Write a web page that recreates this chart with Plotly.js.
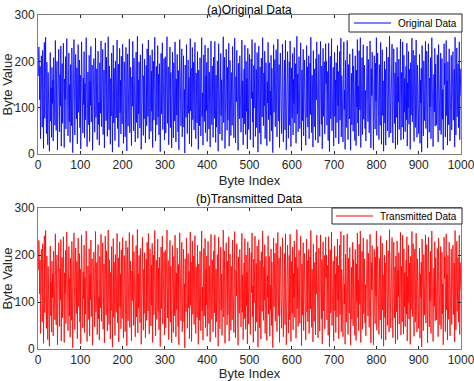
<!DOCTYPE html>
<html><head><meta charset="utf-8">
<script src="https://cdn.plot.ly/plotly-3.0.1.min.js"></script>
<style>html,body{margin:0;padding:0;background:#fff}</style>
</head><body><div id="chart" style="width:474px;height:381px"></div>
<script>
// Byte values, index 1..1000
const originalBytes = [
168,231,204,117,189,33,96,212,147,58,224,183,12,139,241,77,165,252,101,44,
198,131,20,176,87,153,6,122,219,71,143,36,187,109,160,28,208,94,136,62,
245,115,51,179,200,9,157,81,226,142,48,171,104,233,17,124,195,66,151,239,
85,14,162,118,210,54,137,249,92,180,39,127,218,70,150,25,193,112,61,229,
174,3,146,99,247,161,41,108,215,132,76,186,22,155,236,90,119,203,57,170,
11,128,242,83,196,45,164,107,221,35,152,74,188,251,126,16,98,177,141,63,
213,27,158,105,232,69,145,192,8,121,86,206,173,47,138,250,79,114,184,31,
154,222,64,111,19,197,135,88,244,59,167,102,226,42,130,181,13,93,240,148,
72,209,125,38,175,253,97,52,190,144,21,163,82,218,116,4,149,235,67,185,
110,29,201,140,78,168,246,55,123,194,15,134,228,89,159,43,211,106,65,237,
182,23,120,199,150,37,84,230,113,7,172,216,60,136,91,248,46,156,187,75,
18,166,103,243,129,50,207,96,178,26,141,220,68,115,254,34,160,87,199,131,
56,214,147,10,183,95,238,122,40,169,76,205,142,24,108,191,61,227,133,81,
246,100,32,158,213,117,49,179,92,225,14,137,200,73,161,252,104,28,152,189,
63,124,234,80,172,41,195,145,5,118,217,86,167,240,53,138,99,206,30,155,
210,45,173,119,253,66,127,188,20,150,102,231,57,176,91,13,144,220,112,35,
197,148,71,242,109,26,162,84,215,134,48,180,9,121,247,94,153,60,184,227,
37,106,171,212,58,139,2,192,126,79,236,154,44,115,203,88,165,22,128,249,
93,185,16,146,230,74,114,198,52,160,241,97,33,175,136,67,221,105,10,181,
143,61,208,123,39,186,251,81,132,19,157,214,70,110,235,46,169,94,198,27,
116,229,140,54,177,89,15,151,244,102,63,190,125,36,209,164,77,243,107,25,
170,58,122,201,147,6,238,96,181,43,135,217,83,160,29,194,111,253,68,142,
209,12,163,98,226,130,51,187,73,155,239,17,119,202,85,40,176,145,62,232,
103,189,35,141,250,91,24,167,113,224,56,149,8,196,127,76,212,100,171,47,
130,246,78,158,20,117,183,65,235,139,42,200,92,163,11,228,108,53,179,215,
87,31,151,205,120,247,69,134,14,191,99,165,240,38,126,182,57,219,146,4,
172,233,95,45,188,115,21,207,153,80,251,128,61,175,104,222,33,142,197,66,
18,156,110,241,74,168,197,27,136,84,213,50,185,116,3,150,236,90,129,204,
59,178,225,101,37,164,248,120,71,193,14,140,218,82,159,44,107,237,169,26,
138,88,203,52,245,132,9,176,97,221,157,34,113,199,62,244,124,16,186,150,
77,217,41,161,109,230,67,146,195,23,131,254,86,173,48,104,210,137,55,190,
240,120,7,181,72,154,226,39,118,203,93,165,19,142,234,79,188,58,125,212,
33,144,196,85,252,110,46,170,135,15,223,98,59,184,148,30,206,117,242,71,
162,24,127,215,90,38,175,243,106,64,190,11,157,228,81,133,199,43,100,238,
152,200,62,112,178,29,239,145,5,121,211,76,166,249,50,139,94,187,17,127,
219,81,160,35,197,132,68,234,104,178,22,155,221,73,114,250,37,169,143,60,
26,187,242,96,138,10,202,121,57,166,245,89,31,193,130,76,216,159,8,107,
174,63,131,227,49,190,153,84,29,212,140,18,181,101,247,67,147,39,223,116,
95,251,14,168,123,208,42,160,236,75,119,192,55,137,28,179,98,233,152,70,
204,138,46,111,244,86,13,184,126,220,61,171,9,148,212,92,54,196,113,251,
40,165,218,80,149,31,193,105,62,241,133,21,177,225,83,158,6,129,200,67,
183,19,99,231,158,50,117,209,143,36,254,92,160,45,120,188,237,71,24,146,
227,110,66,175,11,198,137,79,230,20,167,112,205,53,141,94,248,30,176,121,
58,242,151,32,213,90,163,48,128,189,74,239,17,154,100,221,64,183,135,10,
197,84,128,250,69,143,224,106,27,170,213,57,132,246,81,36,192,113,166,44,
141,215,23,159,110,185,4,234,96,153,39,201,124,72,177,243,55,147,222,87,
13,179,238,125,47,164,102,208,33,140,251,78,190,16,118,172,91,228,60,194,
107,62,152,214,89,26,236,134,176,51,115,218,42,165,206,75,139,9,183,238,
150,196,37,118,245,83,158,19,199,97,63,227,145,28,174,120,213,52,160,104,
221,73,133,183,15,252,108,41,166,229,80,136,195,57,117,242,31,184,150,125
];
const transmittedBytes = originalBytes.slice();
const byteIndex = originalBytes.map((_, i) => i + 1);
const seriesNames = ["Original Data", "Transmitted Data"];
const seriesColors = ["#0000ff", "#ff0000"];
const panelTitles = ["(a)Original Data", "(b)Transmitted Data"];
const xTicks = [0,100,200,300,400,500,600,700,800,900,1000];
const yTicks = [0,100,200,300];

const W = 474, H = 381;
const xDom = [38/W, 461/W];
const yDomTop = [1-154/H, 1-15/H];
const yDomBot = [1-349/H, 1-208/H];
const fontFam = "Liberation Sans, Arial, sans-serif";
const axColor = "#262626";

function xa(anchor){
  return {domain: xDom, anchor: anchor, range:[0,1000], tickvals: xTicks,
    ticks:"inside", ticklen:3, tickcolor:axColor, showline:true, linecolor:"#808080", linewidth:1,
    mirror:"ticks", showgrid:false, zeroline:false, ticklabeloverflow:"allow",
    tickfont:{size:12, color:axColor, family:fontFam},
    title:{text:"Byte Index", font:{size:13, color:axColor, family:fontFam}, standoff:4}};
}
function ya(anchor, dom){
  return {domain: dom, anchor: anchor, range:[0,300], tickvals: yTicks,
    ticks:"inside", ticklen:3, tickcolor:axColor, showline:true, linecolor:"#808080", linewidth:1,
    mirror:"ticks", showgrid:false, zeroline:false, tickfont:{size:12, color:axColor, family:fontFam},
    title:{text:"Byte Value", font:{size:13, color:axColor, family:fontFam}, standoff:6}};
}

const data = [
  {x: byteIndex, y: originalBytes, type:"scatter", mode:"lines", name: seriesNames[0],
   line:{color:seriesColors[0], width:0.8}, xaxis:"x", yaxis:"y", showlegend:false},
  {x: byteIndex, y: transmittedBytes, type:"scatter", mode:"lines", name: seriesNames[1],
   line:{color:seriesColors[1], width:0.8}, xaxis:"x2", yaxis:"y2", showlegend:false}
];

function px(x){ return x/W; }
function py(y){ return 1-y/H; }
const legendBoxes = [
  {x0:349, x1:462, y0:14, y1:32, l0:354, l1:391, tx:458},
  {x0:332, x1:462, y0:208, y1:224, l0:336, l1:373, tx:458}
];
const shapes = [], annotations = [];
legendBoxes.forEach((b, i) => {
  shapes.push({type:"rect", xref:"paper", yref:"paper", x0:px(b.x0), x1:px(b.x1), y0:py(b.y1), y1:py(b.y0),
    line:{color:"#262626", width:1}, fillcolor:"#ffffff", layer:"above"});
  const yc = (b.y0+b.y1)/2;
  shapes.push({type:"line", xref:"paper", yref:"paper", x0:px(b.l0), x1:px(b.l1), y0:py(yc), y1:py(yc),
    line:{color:seriesColors[i], width:1}, layer:"above"});
  annotations.push({text: seriesNames[i], xref:"paper", yref:"paper", x:px(b.tx), y:py(yc),
    xanchor:"right", yanchor:"middle", showarrow:false, borderpad:0,
    font:{size:10, color:"#000", family:fontFam}});
});
annotations.push(
  {text: panelTitles[0], xref:"paper", yref:"paper", x:(xDom[0]+xDom[1])/2, y:1,
   xanchor:"center", yanchor:"top", yshift:-1, showarrow:false, font:{size:12, color:"#000", family:fontFam}},
  {text: panelTitles[1], xref:"paper", yref:"paper", x:(xDom[0]+xDom[1])/2, y:py(190),
   xanchor:"center", yanchor:"top", showarrow:false, font:{size:12, color:"#000", family:fontFam}}
);

const layout = {
  width: W, height: H, margin:{l:0,r:0,t:0,b:0},
  paper_bgcolor:"#fff", plot_bgcolor:"#fff", showlegend:false,
  xaxis: xa("y"), yaxis: ya("x", yDomTop),
  xaxis2: xa("y2"), yaxis2: ya("x2", yDomBot),
  shapes: shapes, annotations: annotations
};
Plotly.newPlot("chart", data, layout, {staticPlot:true, displayModeBar:false});
</script></body></html>
